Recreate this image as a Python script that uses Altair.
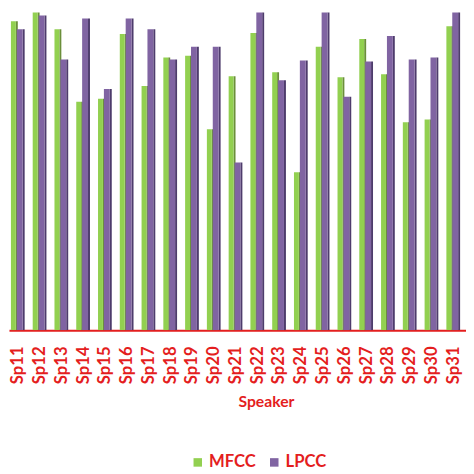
import altair as alt
import pandas as pd

speakers = list(range(11, 32))
labels = ["Sp%d" % n for n in speakers]
mfcc = [315, 326, 307, 233, 236, 302, 249, 278, 280, 205, 259, 303, 263, 161, 289, 258, 297, 261, 212, 215, 310]
lpcc = [307, 321, 276, 318, 246, 318, 307, 276, 289, 289, 171, 326, 255, 275, 326, 238, 274, 300, 276, 278, 326]

df = pd.DataFrame({
    "n": speakers * 2,
    "series": ["MFCC"] * len(speakers) + ["LPCC"] * len(speakers),
    "value": mfcc + lpcc,
})

RED = "#e41e1e"
FONT = "Lato"
U = 1 / 22.2  # data units per pixel on x

xscale = alt.Scale(domain=[10.595, 31.586], nice=False, zero=False)
yscale = alt.Scale(domain=[0, 324], nice=False)

xaxis = alt.Axis(
    values=speakers, labelExpr="'Sp' + datum.value", labelAngle=-90,
    labelOverlap=False, labelBound=False, labelFlush=False,
    labelColor=RED, labelFont=FONT, labelFontWeight="bold", labelFontSize=17,
    labelPadding=16, ticks=False, grid=False, domainColor=RED, domainWidth=2,
    title="Speaker", titleColor=RED, titleFont=FONT, titleFontWeight="bold",
    titleFontSize=16, titleX=262, titlePadding=10)

base = alt.Chart(df)

side = base.transform_calculate(
    x1=f"datum.n + (datum.series == 'MFCC' ? {-2*U} : {5*U})",
    x2=f"datum.n + (datum.series == 'MFCC' ? 0 : {7*U})",
    sc="datum.series == 'MFCC' ? '#6b8f3a' : '#4e3c6c'",
).mark_bar(clip=True).encode(
    x=alt.X("x1:Q", scale=xscale, axis=xaxis),
    x2="x2:Q",
    y=alt.Y("value:Q", scale=yscale, axis=None, stack=None),
    y2=alt.datum(0),
    color=alt.Color("sc:N", scale=None),
)

face = base.transform_calculate(
    x1=f"datum.n + (datum.series == 'MFCC' ? {-7*U} : {-1*U})",
    x2=f"datum.n + (datum.series == 'MFCC' ? {-2*U} : {5*U})",
).mark_bar(clip=True).encode(
    x=alt.X("x1:Q", scale=xscale, axis=xaxis),
    x2="x2:Q",
    y=alt.Y("value:Q", scale=yscale, axis=None, stack=None),
    y2=alt.datum(0),
    color=alt.Color("series:N", sort=["MFCC", "LPCC"],
                    scale=alt.Scale(domain=["MFCC", "LPCC"], range=["#92d050", "#8064a2"]),
                    legend=alt.Legend(title=None, orient="none", legendX=184, legendY=450,
                                      direction="horizontal", symbolType="square",
                                      symbolSize=75, symbolStrokeWidth=0,
                                      labelFont=FONT, labelFontSize=17, labelFontWeight="bold",
                                      labelColor=RED, columnPadding=10, labelOffset=3)),
)

chart = alt.layer(side, face).properties(
    width=466, height=324, padding=0, background="white"
).configure_view(stroke=None).configure_axisX(labelOverlap=False)

chart.save("out.html", embed_options={"renderer": "svg", "actions": False})
